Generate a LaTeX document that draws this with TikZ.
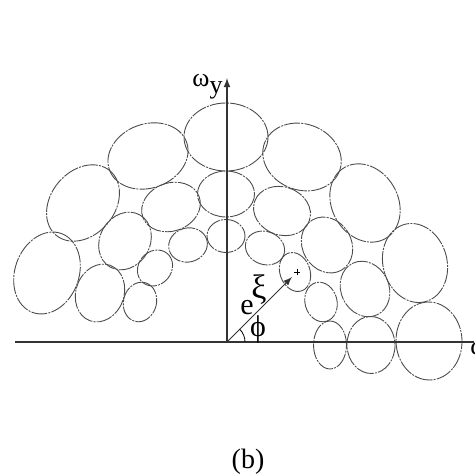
\documentclass[tikz,border=0pt]{standalone}
\usepackage{fontspec}
\setmainfont{Liberation Serif}

\begin{document}
\begin{tikzpicture}[x=0.5pt, y=-0.5pt,
	blob/.style={gray!60!black, line width=0.45pt, dash pattern=on 8pt off 0.6pt on 1pt off 0.6pt},
	axis/.style={black!80, line width=0.6pt},
	lbl/.style={font=\fontsize{13}{15}\selectfont, inner sep=0pt}]
	\useasboundingbox (0,0) rectangle (474,474);
	\clip (0,0) rectangle (474,474);
	
	% outer ring
	\draw[blob] (47,273) circle [x radius=42, y radius=32, rotate=70];
	\draw[blob] (83,203) circle [x radius=42, y radius=32, rotate=50];
	\draw[blob] (148,156) circle [x radius=41, y radius=32, rotate=20];
	\draw[blob] (226,137) circle [x radius=42, y radius=34];
	\draw[blob] (302,157) circle [x radius=40, y radius=33, rotate=-20];
	\draw[blob] (365,203) circle [x radius=41, y radius=33, rotate=-60];
	\draw[blob] (415,263) circle [x radius=40, y radius=32, rotate=-75];
	\draw[blob] (429,341) circle [x radius=39, y radius=33, rotate=-88];
	
	% middle ring
	\draw[blob] (100,293) circle [x radius=29.5, y radius=24, rotate=70];
	\draw[blob] (125,241) circle [x radius=30, y radius=25, rotate=60];
	\draw[blob] (171,207) circle [x radius=30, y radius=24, rotate=20];
	\draw[blob] (226,194) circle [x radius=28.5, y radius=23];
	\draw[blob] (282,211) circle [x radius=29, y radius=24, rotate=-20];
	\draw[blob] (327,245) circle [x radius=29, y radius=24.5, rotate=-60];
	\draw[blob] (365,289) circle [x radius=28.5, y radius=24, rotate=-65];
	\draw[blob] (371,345) circle [x radius=28.5, y radius=24, rotate=-88];
	
	% inner ring
	\draw[blob] (140,302) circle [x radius=20, y radius=16.5, rotate=75];
	\draw[blob] (155,268) circle [x radius=19, y radius=16.5, rotate=50];
	\draw[blob] (188,245) circle [x radius=19.5, y radius=17, rotate=15];
	\draw[blob] (226,236) circle [x radius=19, y radius=16.5];
	\draw[blob] (265,248) circle [x radius=20, y radius=16.5, rotate=-20];
	\draw[blob] (295,272) circle [x radius=20, y radius=15, rotate=-70];
	\draw[blob] (321,302) circle [x radius=20, y radius=16, rotate=-75];
	\draw[blob] (330,345) circle [x radius=24, y radius=16.5, rotate=90];
	
	% axes
	\coordinate (O) at (227,342);
	\coordinate (xl) at (15,342);
	\coordinate (xr) at (474,342);
	\coordinate (yt) at (227,78);
	\draw[axis] (xl) -- (xr);
	\draw[axis, -latex] (O) -- (yt);
	\node[lbl, anchor=east] (wy) at (223,87) {ω\raisebox{-0.55ex}{y}};
	\node[lbl, anchor=west] (wx) at (470,352) {ω\raisebox{-0.55ex}{x}};
	
	% radius vector and angle
	\coordinate (tip) at (297,272);
	\coordinate (head) at (292,277);
	\draw[axis, line width=0.5pt, -latex] (O) -- (head);
	\draw[line width=0.4pt] (tip) ++(-3,0) -- ++(6,0) (tip) ++(0,-3) -- ++(0,6);
	\draw[line width=0.4pt] (O) ++(18,0) arc [start angle=0, end angle=-45, radius=18];
	\node[lbl, font=\fontsize{15}{17}\selectfont] (e) at (247,308) {e};
	\node[lbl, font=\fontsize{17}{19}\selectfont] (xi) at (259,290) {ξ};
	\node[lbl, font=\fontsize{15}{17}\selectfont] (phi) at (258,329) {ϕ};
	
	\node[lbl, font=\fontsize{14}{16}\selectfont] (cap) at (248,462) {(b)};
\end{tikzpicture}
\end{document}
